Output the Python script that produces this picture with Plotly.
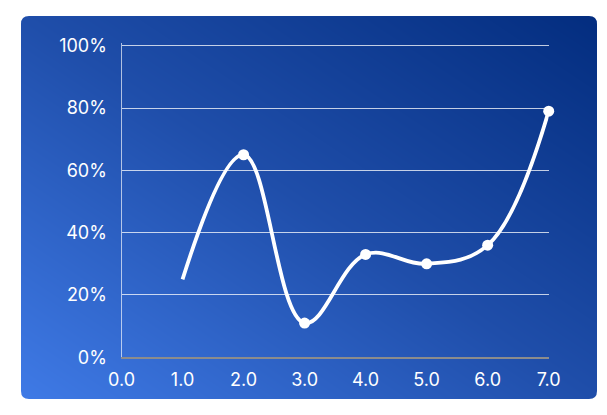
import plotly.graph_objects as go

# dados do grafico
x_vals = [1, 2, 3, 4, 5, 6, 7]
y_vals = [0.25, 0.65, 0.11, 0.33, 0.30, 0.36, 0.79]
marker_sizes = [0, 11, 11, 11, 11, 11, 11]
y_ticks = [0, 0.2, 0.4, 0.6, 0.8, 1.0]
x_ticks = [0, 1, 2, 3, 4, 5, 6, 7]

# a pagina tem margem de 8px no body, entao desconto isso das posicoes
OFF = 8
W, H = 607 - 2 * OFF, 415 - 2 * OFF
Y_TOP = 1.008  # folga para a grade de 100% aparecer
card = (21 - OFF, 16 - OFF, 597 - OFF, 399 - OFF)      # esquerda, topo, direita, base (px)
plot_top = 357.3 - (357.3 - 45.7) * Y_TOP
plot = (121.5 - OFF, plot_top - OFF, 548.7 - OFF, 357.3 - OFF)


def px(x):
    return x / W


def py(y):
    return 1 - y / H


def corner_mask(cx, cy, dx, dy, r=8):
    # cantos arredondados do cartao (pinta de branco fora do arco)
    p0 = (cx + dx * r, cy)
    p1 = (cx, cy + dy * r)
    return dict(
        type="path", xref="paper", yref="paper", layer="above",
        path=(f"M {px(cx)},{py(cy)} L {px(p0[0])},{py(p0[1])} "
              f"Q {px(cx)},{py(cy)} {px(p1[0])},{py(p1[1])} Z"),
        fillcolor="white", line=dict(width=0),
    )


# fundo em degrade diagonal
bg = go.Heatmap(
    z=[[0, 0.5], [0.5, 1]], x=[0, 1], y=[0, 1],
    colorscale=[[0, "#3f7ae6"], [0.5, "#1f4eaa"], [1, "#032d7f"]],
    zsmooth="best", showscale=False, hoverinfo="skip",
    xaxis="x", yaxis="y",
)

line = go.Scatter(
    x=x_vals, y=y_vals, mode="lines+markers",
    line=dict(color="white", width=3.8, shape="spline", smoothing=1.1),
    marker=dict(color="white", size=marker_sizes, opacity=1, line=dict(width=0)),
    xaxis="x2", yaxis="y2", showlegend=False, cliponaxis=False,
)

fig = go.Figure([bg, line])

tick_font = dict(family="Inter, Roboto, sans-serif", size=18, color="white")

fig.update_layout(
    width=W, height=H,
    margin=dict(l=0, r=0, t=0, b=0, autoexpand=False),
    paper_bgcolor="white",
    plot_bgcolor="rgba(0,0,0,0)",
    xaxis=dict(domain=[px(card[0]), px(card[2])], range=[0, 1], visible=False,
               fixedrange=True, automargin=False),
    yaxis=dict(domain=[py(card[3]), py(card[1])], range=[0, 1], visible=False,
               fixedrange=True, automargin=False),
    xaxis2=dict(
        domain=[px(plot[0]), px(plot[2])], anchor="y2", range=[0, 7],
        tickvals=x_ticks, tickformat=".1f", tickfont=tick_font,
        showgrid=False, zeroline=False, automargin=False,
        showline=True, linecolor="#8c8c8c", linewidth=2,
        ticks="", ticklabelstandoff=5,
    ),
    yaxis2=dict(
        domain=[py(plot[3]), py(plot[1])], anchor="x2", range=[0, Y_TOP],
        tickvals=y_ticks, tickformat=".0%", tickfont=tick_font,
        showgrid=True, gridcolor="rgba(255,255,255,0.75)", gridwidth=1.2,
        zeroline=False, showline=True, linecolor="rgba(255,255,255,0.65)", linewidth=1,
        ticks="", ticklabelstandoff=10, automargin=False,
    ),
    shapes=[
        corner_mask(card[0], card[1], 1, 1),
        corner_mask(card[2], card[1], -1, 1),
        corner_mask(card[0], card[3], 1, -1),
        corner_mask(card[2], card[3], -1, -1),
    ],
)

fig.write_html("out.html")
